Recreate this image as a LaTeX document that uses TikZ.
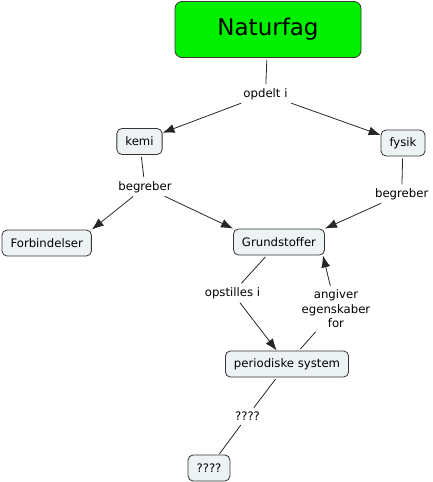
\documentclass[tikz,border=0pt]{standalone}
\usepackage{fontspec}
\setmainfont{DejaVu Sans}
\usetikzlibrary{arrows.meta,positioning}

\definecolor{conceptfill}{RGB}{237,243,245}
\definecolor{topfill}{RGB}{0,240,0}

\begin{document}
\begin{tikzpicture}[x=1pt,y=-1pt,
        concept/.style={draw=black!80, fill=conceptfill, rounded corners=5pt, line width=0.8pt, minimum height=26pt, inner xsep=8.5pt, font=\fontsize{11.7}{14}\selectfont},
        linkword/.style={inner sep=3pt, align=center, font=\fontsize{11.7}{14.5}\selectfont},
        link/.style={draw=black!85, line width=0.8pt, shorten <=2pt, shorten >=1pt},
        arrowlink/.style={draw=black!85, line width=0.8pt, shorten <=1pt, -{Latex[length=12pt,width=9pt]}}]
    \useasboundingbox (0,0) rectangle (432,482);

    % concepts - positions are pixel centres of the boxes, y counted downwards
    \node[concept, fill=topfill, rounded corners=7pt, minimum width=186pt, minimum height=56pt, font=\fontsize{23}{27}\selectfont] (naturfag) at (268,29.5) {Naturfag};
    \node[concept] (kemi)      at (139.5,141.5) {kemi};
    \node[concept] (fysik)     at (403,143)     {fysik};
    \node[concept] (forbind)   at (46.7,243)    {Forbindelser};
    \node[concept] (grund)     at (279,242)     {Grundstoffer};
    \node[concept] (periodisk) at (287,364)     {periodiske system};
    \node[concept] (ukendt)    at (209,468)     {????};

    % linking words
    \node[linkword] (opdelt)    at (265.5,94)  {opdelt i};
    \node[linkword] (begreberK) at (145,187)   {begreber};
    \node[linkword] (begreberF) at (401.7,194) {begreber};
    \node[linkword] (opstilles) at (232.5,293) {opstilles i};
    \node[linkword] (angiver)   at (336,309)   {angiver\\egenskaber\\for};
    \node[linkword] (spoerg)    at (247.5,416) {????};

    % connectors - concept -> linking word -> concept
    \draw[link] (naturfag) -- (opdelt);                                 % Naturfag opdelt i
    \draw[arrowlink] (opdelt) -- (kemi);                                % ... kemi
    \draw[arrowlink] (opdelt) -- (fysik);                               % ... fysik
    \draw[link] (kemi) -- (begreberK);                                  % kemi begreber
    \draw[arrowlink] (begreberK) -- (forbind.north east);               % ... Forbindelser
    \draw[arrowlink] (begreberK) -- (grund.north west);                 % ... Grundstoffer
    \draw[link] (fysik) -- (begreberF);                                 % fysik begreber
    \draw[arrowlink] (begreberF) -- (grund.north east);                 % ... Grundstoffer
    \draw[link] (grund) -- (opstilles);                                 % Grundstoffer opstilles i
    \draw[arrowlink] (opstilles) -- (periodisk);                        % ... periodiske system
    \draw[link] (periodisk) -- (angiver);                               % periodiske system angiver egenskaber for
    \draw[arrowlink] (angiver) -- ([xshift=-2pt]grund.south east);      % ... Grundstoffer
    \draw[link] (periodisk) -- (spoerg);                                % periodiske system ????
    \draw[link] (spoerg) -- (ukendt);                                   % ... ????
\end{tikzpicture}
\end{document}
